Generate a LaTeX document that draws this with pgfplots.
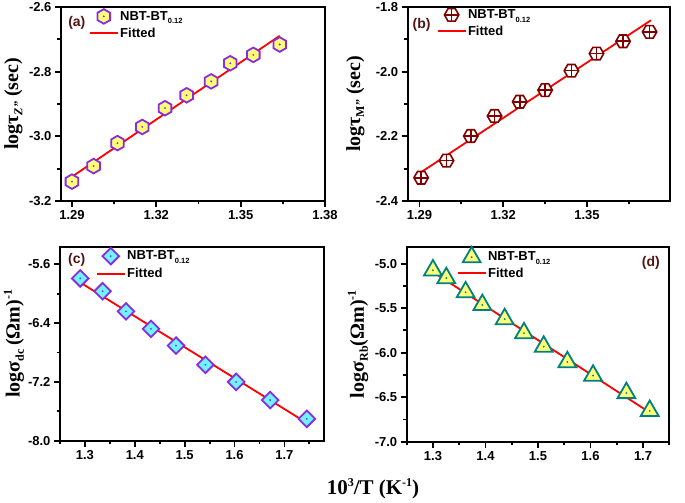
\documentclass[border=0pt]{standalone}
\usepackage{fontspec}
\setmainfont{Liberation Serif}
\setsansfont{Liberation Sans}
\usepackage{pgfplots}
\pgfplotsset{compat=1.18}
\usetikzlibrary{plotmarks}

\definecolor{violetedge}{RGB}{138,43,226}
\definecolor{paleyellow}{RGB}{255,255,120}
\definecolor{cyanfill}{RGB}{110,245,255}
\definecolor{darkred}{RGB}{128,0,0}
\definecolor{tealedge}{RGB}{0,128,128}
\definecolor{labcol}{RGB}{80,20,20}

\newcommand{\markdot}{\pgfscope\pgfsetlinewidth{0.8pt}\pgfpathcircle{\pgfpointorigin}{0.45pt}\pgfusepathqstroke\endpgfscope}
\pgfdeclareplotmark{hexdot}{%
  \pgfpathmoveto{\pgfpointpolar{90}{\pgfplotmarksize}}%
  \pgfpathlineto{\pgfpointpolar{150}{\pgfplotmarksize}}%
  \pgfpathlineto{\pgfpointpolar{210}{\pgfplotmarksize}}%
  \pgfpathlineto{\pgfpointpolar{270}{\pgfplotmarksize}}%
  \pgfpathlineto{\pgfpointpolar{330}{\pgfplotmarksize}}%
  \pgfpathlineto{\pgfpointpolar{30}{\pgfplotmarksize}}%
  \pgfpathclose\pgfusepathqfillstroke
  \markdot}
\pgfdeclareplotmark{hexplus}{%
  \pgfpathmoveto{\pgfpointpolar{0}{\pgfplotmarksize}}%
  \pgfpathlineto{\pgfpointpolar{60}{\pgfplotmarksize}}%
  \pgfpathlineto{\pgfpointpolar{120}{\pgfplotmarksize}}%
  \pgfpathlineto{\pgfpointpolar{180}{\pgfplotmarksize}}%
  \pgfpathlineto{\pgfpointpolar{240}{\pgfplotmarksize}}%
  \pgfpathlineto{\pgfpointpolar{300}{\pgfplotmarksize}}%
  \pgfpathclose\pgfusepathqfillstroke
  \pgfpathmoveto{\pgfpointpolar{90}{0.866\pgfplotmarksize}}%
  \pgfpathlineto{\pgfpointpolar{270}{0.866\pgfplotmarksize}}%
  \pgfpathmoveto{\pgfpointpolar{180}{\pgfplotmarksize}}%
  \pgfpathlineto{\pgfpointpolar{0}{\pgfplotmarksize}}%
  \pgfusepathqstroke}
\pgfdeclareplotmark{diamdot}{%
  \pgfpathmoveto{\pgfpointpolar{90}{\pgfplotmarksize}}%
  \pgfpathlineto{\pgfpointpolar{180}{\pgfplotmarksize}}%
  \pgfpathlineto{\pgfpointpolar{270}{\pgfplotmarksize}}%
  \pgfpathlineto{\pgfpointpolar{0}{\pgfplotmarksize}}%
  \pgfpathclose\pgfusepathqfillstroke
  \markdot}
\pgfdeclareplotmark{tridot}{%
  \pgfpathmoveto{\pgfpointpolar{90}{\pgfplotmarksize}}%
  \pgfpathlineto{\pgfpointpolar{210}{\pgfplotmarksize}}%
  \pgfpathlineto{\pgfpointpolar{330}{\pgfplotmarksize}}%
  \pgfpathclose\pgfusepathqfillstroke
  \markdot}

\newcommand{\sub}[1]{\raisebox{-0.45ex}{\fontsize{12}{12}\selectfont #1}}
\newcommand{\sups}[1]{\raisebox{0.85ex}{\fontsize{12}{12}\selectfont #1}}
\newcommand{\lsub}[1]{\raisebox{-0.55ex}{\fontsize{7.5}{7.5}\selectfont #1}}
\newcommand{\nbt}{NBT-BT\lsub{0.12}}
\newcommand{\ylabfont}{\rmfamily\bfseries\fontsize{20}{20}\selectfont}

\pgfplotsset{
  panel/.style={
    scale only axis,
    axis line style={line width=2pt},
    tick align=outside,
    xtick pos=left, ytick pos=left,
    major tick length=6pt, minor tick length=3.5pt,
    every tick/.style={line width=1.8pt, black},
    /pgf/number format/assume math mode=true,
    tick label style={font=\sffamily\bfseries\fontsize{13}{13}\selectfont},
    yticklabel style={/pgf/number format/fixed,/pgf/number format/fixed zerofill,/pgf/number format/precision=1},
    legend cell align=left,
    legend style={draw=none, fill=none, inner sep=0pt, row sep=2.5pt,
      font=\sffamily\bfseries\fontsize{13}{13}\selectfont,
      nodes={inner sep=1.5pt}},
    legend image code/.code={\draw[mark repeat=2,mark phase=2] plot coordinates {(0pt,0pt) (14pt,0pt) (28pt,0pt)};},
  },
  fitline/.style={red, line width=1.8pt, no markers},
}

\begin{document}
\begin{tikzpicture}
\path[use as bounding box] (0,0) rectangle (685pt,503pt);

% (a)
\begin{axis}[panel, at={(61pt,302pt)}, anchor=south west, width=264pt, height=194pt,
  xmin=1.2861, xmax=1.38, ymin=-3.2, ymax=-2.6,
  xtick={1.29,1.32,1.35,1.38}, minor xtick={1.305,1.335,1.365},
  ytick={-3.2,-3.0,-2.8,-2.6}, minor ytick={-3.1,-2.9,-2.7},
  xticklabel style={/pgf/number format/fixed,/pgf/number format/fixed zerofill,/pgf/number format/precision=2},
  ylabel={logτ\sub{\itshape Z''} (sec)},
  every axis y label/.style={at={(axis description cs:-0.18,0.5)}, rotate=90, anchor=center, font=\ylabfont},
  legend style={at={(axis description cs:0.105,0.99)}, anchor=north west}]
\addplot[only marks, mark=hexdot, mark size=7.3pt, draw=violetedge, fill=paleyellow, line width=1.8pt]
 coordinates {(1.2900,-3.140) (1.2977,-3.092) (1.3062,-3.021) (1.3150,-2.971) (1.3231,-2.913)
  (1.3308,-2.873) (1.3395,-2.830) (1.3463,-2.774) (1.3545,-2.748) (1.3639,-2.716)};
\addlegendentry{\nbt}
\addplot[fitline] coordinates {(1.2900,-3.125) (1.3639,-2.689)};
\addlegendentry{Fitted}
\node[font=\sffamily\bfseries\fontsize{14}{14}\selectfont, text=labcol] at (axis description cs:0.06,0.916) {(a)};
\end{axis}

% (b)
\begin{axis}[panel, at={(407.7pt,302pt)}, anchor=south west, width=262pt, height=194pt,
  xmin=1.2858, xmax=1.3796, ymin=-2.4, ymax=-1.8,
  xtick={1.29,1.32,1.35,1.38}, minor xtick={1.305,1.335,1.365},
  ytick={-2.4,-2.2,-2.0,-1.8}, minor ytick={-2.3,-2.1,-1.9},
  xticklabel style={/pgf/number format/fixed,/pgf/number format/fixed zerofill,/pgf/number format/precision=2},
  ylabel={logτ\sub{M''} (sec)},
  every axis y label/.style={at={(axis description cs:-0.2,0.5)}, rotate=90, anchor=center, font=\ylabfont},
  legend style={at={(axis description cs:0.11,0.995)}, anchor=north west}]
\addplot[only marks, mark=hexplus, mark size=7.2pt, draw=darkred, fill=white, line width=1.6pt]
 coordinates {(1.2906,-2.328) (1.2997,-2.275) (1.3084,-2.199) (1.3169,-2.137) (1.3259,-2.093)
  (1.3350,-2.057) (1.3444,-1.997) (1.3534,-1.944) (1.3629,-1.906) (1.3724,-1.877)};
\addlegendentry{\nbt}
\addplot[fitline] coordinates {(1.2906,-2.311) (1.3729,-1.841)};
\addlegendentry{Fitted}
\node[font=\sffamily\bfseries\fontsize{14}{14}\selectfont, text=labcol] at (axis description cs:0.053,0.907) {(b)};
\end{axis}

% (c)
\begin{axis}[panel, at={(60pt,62.3pt)}, anchor=south west, width=264.3pt, height=194pt,
  xmin=1.25, xmax=1.78, ymin=-8.0, ymax=-5.36,
  xtick={1.3,1.4,1.5,1.6,1.7}, minor xtick={1.25,1.35,1.45,1.55,1.65,1.75},
  ytick={-8.0,-7.2,-6.4,-5.6}, minor ytick={-7.6,-6.8,-6.0},
  xticklabel style={/pgf/number format/fixed,/pgf/number format/fixed zerofill,/pgf/number format/precision=1},
  ylabel={logσ\sub{dc}\,(Ωm)\sups{-1}},
  every axis y label/.style={at={(axis description cs:-0.174,0.5)}, rotate=90, anchor=center, font=\ylabfont},
  legend style={at={(axis description cs:0.135,0.995)}, anchor=north west}]
\addplot[only marks, mark=diamdot, mark size=8.3pt, draw=violetedge, fill=cyanfill, line width=1.8pt]
 coordinates {(1.2906,-5.792) (1.3354,-5.966) (1.3823,-6.240) (1.4325,-6.478) (1.4827,-6.706)
  (1.5416,-6.967) (1.6032,-7.200) (1.6715,-7.447) (1.7450,-7.703)};
\addlegendentry{\nbt}
\addplot[fitline] coordinates {(1.2906,-5.847) (1.7450,-7.758)};
\addlegendentry{Fitted}
\node[font=\sffamily\bfseries\fontsize{14}{14}\selectfont, text=labcol] at (axis description cs:0.063,0.93) {(c)};
\end{axis}

% (d)
\begin{axis}[panel, at={(406.7pt,61.3pt)}, anchor=south west, width=262.6pt, height=195pt,
  xmin=1.25, xmax=1.75, ymin=-7.0, ymax=-4.81,
  xtick={1.3,1.4,1.5,1.6,1.7}, minor xtick={1.25,1.35,1.45,1.55,1.65,1.75},
  ytick={-7.0,-6.5,-6.0,-5.5,-5.0}, minor ytick={-6.75,-6.25,-5.75,-5.25},
  xticklabel style={/pgf/number format/fixed,/pgf/number format/fixed zerofill,/pgf/number format/precision=1},
  ylabel={logσ\sub{Rb}(Ωm)\sups{-1}},
  every axis y label/.style={at={(axis description cs:-0.185,0.5)}, rotate=90, anchor=center, font=\ylabfont},
  legend style={at={(axis description cs:0.19,1.0)}, anchor=north west}]
\addplot[only marks, mark=tridot, mark size=10.3pt, draw=tealedge, fill=paleyellow, line width=1.8pt]
 coordinates {(1.3000,-5.075) (1.3254,-5.162) (1.3622,-5.321) (1.3940,-5.464) (1.4365,-5.623)
  (1.4733,-5.781) (1.5108,-5.932) (1.5559,-6.106) (1.6048,-6.257) (1.6683,-6.453) (1.7127,-6.653)};
\addlegendentry{\nbt}
\addplot[fitline] coordinates {(1.3000,-5.094) (1.7127,-6.672)};
\addlegendentry{Fitted}
\node[font=\sffamily\bfseries\fontsize{14}{14}\selectfont, text=labcol] at (axis description cs:0.93,0.915) {(d)};
\end{axis}

\node[font=\rmfamily\bfseries\fontsize{21}{21}\selectfont] at (373pt,14pt) {10\sups{3}/T (K\sups{-1})};
\end{tikzpicture}
\end{document}
